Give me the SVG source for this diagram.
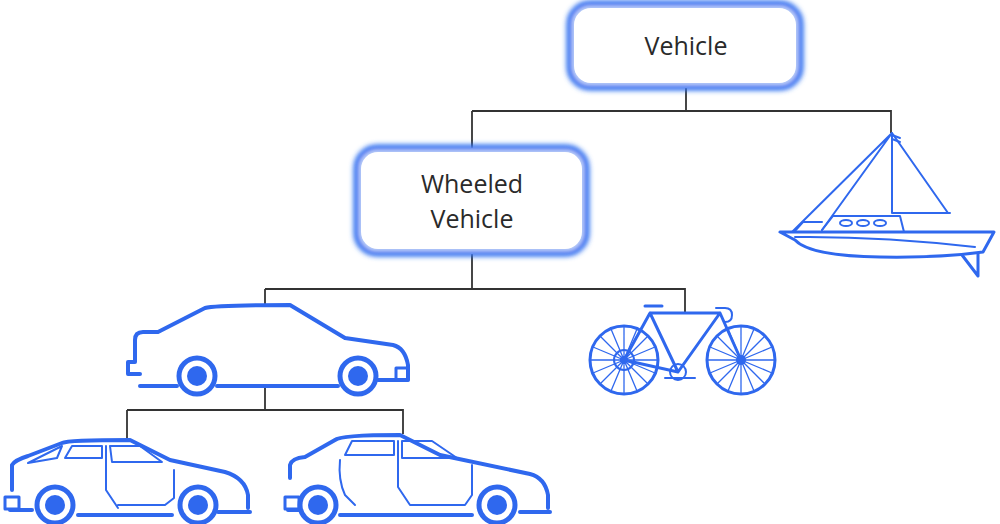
<svg xmlns="http://www.w3.org/2000/svg" width="1000" height="524" viewBox="0 0 1000 524">
<defs>
<filter id="glow" x="-10%" y="-20%" width="120%" height="140%"><feGaussianBlur stdDeviation="2.5"/></filter>
<style>
.box{fill:#fff;stroke:#2f6ff0;stroke-width:7}
.boxin{fill:none;stroke:#9fbcf7;stroke-width:6}
.lbl{font-family:"Open Sans","Liberation Sans",sans-serif;font-size:25px;fill:#2a2a2a;text-anchor:middle}
.con{fill:none;stroke:#333;stroke-width:1.8}
.d{fill:none;stroke:#2f68ee;stroke-width:4;stroke-linejoin:round;stroke-linecap:round}
.t{fill:none;stroke:#2f68ee;stroke-width:2;stroke-linejoin:round;stroke-linecap:round}
.hub{fill:#2f68ee}
.tyre{fill:#fff;stroke:#2f68ee;stroke-width:5}
</style>
</defs>
<rect width="1000" height="524" fill="#fff"/>
<g id="connectors">
<path class="con" d="M686 88V111M472 111H891V133M472 111V148"/>
<path class="con" d="M472 254V289M265 289H685V313M265 289V306"/>
<path class="con" d="M265 385V410M127 410H403V434M127 410V440"/>
</g>
<g id="vehicle">
<rect x="570" y="4" width="230" height="83" rx="20" class="box" filter="url(#glow)"/>
<rect x="576" y="10" width="218" height="71" rx="15" class="boxin" filter="url(#glow)"/>
<rect x="574" y="8" width="222" height="75" rx="17" fill="#fff"/>
<text x="686" y="55" class="lbl">Vehicle</text>
</g>
<g id="wheeled-vehicle">
<rect x="357" y="148" width="229" height="105" rx="20" class="box" filter="url(#glow)"/>
<rect x="363" y="154" width="217" height="93" rx="15" class="boxin" filter="url(#glow)"/>
<rect x="361" y="152" width="221" height="97" rx="17" fill="#fff"/>
<text x="472" y="193" class="lbl">Wheeled</text>
<text x="472" y="228" class="lbl">Vehicle</text>
</g>
<g id="boat">
<path class="t" d="M892 133V213H950M892 133L948 213M892 133L792 232M892 133L822 230"/>
<path class="t" d="M892 135l8 3M892 139l8 3"/>
<path class="t" d="M794 232L803 222H822M822 230L833 216H900L904 232"/>
<ellipse class="t" cx="846" cy="223" rx="6" ry="3"/><ellipse class="t" cx="863" cy="223" rx="6" ry="3"/><ellipse class="t" cx="880" cy="223" rx="6" ry="3"/>
<path class="d" d="M780 232H994L983 252Q940 258 880 257Q810 256 795 240Z" style="stroke-width:3"/>
<path class="t" d="M795 237Q880 236 975 247"/>
<path class="d" d="M962 255L978 276V254" style="stroke-width:3"/>
</g>
<g id="car">
<path class="d" d="M135 362H128V374H140M135 362V340Q135 332 143 332H158L205 308Q215 305 290 305L345 338L393 345Q405 348 408 365V380H378M338 386H217M177 386H140"/>
<rect x="396" y="368" width="12" height="12" class="d" style="stroke-width:3"/>
<circle cx="197" cy="376" r="18" class="tyre"/><circle cx="197" cy="376" r="10" class="hub"/>
<circle cx="358" cy="376" r="18" class="tyre"/><circle cx="358" cy="376" r="10" class="hub"/>
</g>
<g id="hatchback">
<path class="d" d="M12 490V465Q15 460 28 456L62 443Q68 440 130 440L170 460L225 472Q245 478 248 495V508M10 510H32M78 515H172M218 512H250"/>
<path class="t" d="M28 463L62 446L57 458ZM65 458L72 446H102V458ZM110 446H140L162 462H112ZM106 446V490L118 508M174 470V498L165 505H118"/>
<rect x="5" y="497" width="14" height="12" class="d" style="stroke-width:3"/>
<circle cx="55" cy="505" r="18" class="tyre"/><circle cx="55" cy="505" r="10" class="hub"/>
<circle cx="198" cy="505" r="18" class="tyre"/><circle cx="198" cy="505" r="10" class="hub"/>
</g>
<g id="sedan">
<path class="d" d="M290 478V465Q292 458 305 457L335 440Q340 435 400 435L440 455L530 474Q545 478 548 495V508M288 510H302M340 515H472M520 512H550"/>
<path class="t" d="M345 455L352 441H394V455ZM402 441H432L457 458H402ZM398 441V487L410 505H465L472 495V465M340 460Q338 480 345 495L355 505"/>
<rect x="285" y="497" width="14" height="12" class="d" style="stroke-width:3"/>
<circle cx="318" cy="505" r="18" class="tyre"/><circle cx="318" cy="505" r="10" class="hub"/>
<circle cx="497" cy="505" r="18" class="tyre"/><circle cx="497" cy="505" r="10" class="hub"/>
</g>
<g id="bicycle">
<circle cx="624" cy="360" r="34" class="t" style="stroke-width:3"/>
<circle cx="741" cy="360" r="34" class="t" style="stroke-width:3"/>
<path class="t" style="stroke-width:1.3" d="M624 326V394M590 360H658M600 336L648 384M648 336L600 384M611 329L637 391M637 329L611 391M593 347L655 373M655 347L593 373M741 326V394M707 360H775M717 336L765 384M765 336L717 384M728 329L754 391M754 329L728 391M710 347L772 373M772 347L710 373"/>
<circle cx="624" cy="360" r="10" class="t"/><circle cx="624" cy="360" r="4" class="hub"/>
<circle cx="741" cy="360" r="5" class="hub"/>
<path class="d" d="M624 360L678 372L650 313H720L678 372M624 360L650 313M720 313L741 360M645 306H662" style="stroke-width:3"/>
<circle cx="678" cy="372" r="8" class="t"/><path class="t" d="M665 378H695"/>
<path class="t" d="M716 308H725Q732 308 732 315Q732 322 725 322"/>
</g>
</svg>
